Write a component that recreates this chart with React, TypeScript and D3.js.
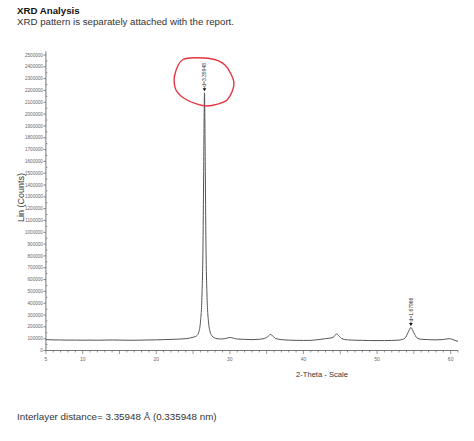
import React from "react";
import * as d3 from "d3";

const twoTheta: number[] = [
  5, 6, 7, 8, 9, 10, 11, 12, 13, 14, 15, 16, 17, 18, 19, 20, 21, 22, 23, 24, 24.5, 25, 25.5, 25.8, 26.0, 26.2,
  26.35, 26.45, 26.55, 26.65, 26.75, 26.9, 27.1, 27.3, 27.6, 28.0, 28.5, 29, 29.5, 30, 30.5, 31, 32, 33, 34,
  35, 35.5, 35.8, 36.2, 37, 38, 39, 40, 41, 42, 43, 44, 44.5, 44.8, 45.2, 46, 47, 48, 49, 50, 51, 52, 53,
  53.8, 54.2, 54.6, 55.0, 55.4, 56, 57, 58, 59, 59.8, 60.2, 60.6, 61,
];
const counts: number[] = [
  92000, 90000, 89000, 88000, 88000, 87000, 88000, 87000, 88000, 89000, 88000, 87000, 87000, 88000, 89000,
  90000, 92000, 94000, 96000, 100000, 104000, 112000, 125000, 160000, 240000, 450000,
  900000, 1600000, 2180000, 1600000, 900000, 450000, 240000, 160000, 122000, 104000, 98000, 98000, 103000,
  110000, 104000, 97000, 94000, 92000, 95000,
  110000, 135000, 125000, 102000, 92000, 88000, 86000, 85000, 86000, 92000, 100000, 110000, 140000, 125000,
  100000, 90000, 87000, 86000, 84000, 84000, 84000, 85000, 88000,
  105000, 150000, 195000, 150000, 108000, 95000, 92000, 90000, 93000, 100000, 95000, 85000, 78000,
];

const yTickValues: number[] = d3.range(0, 2500001, 100000);
const xTickLabels: number[] = [5, 10, 20, 30, 40, 50, 60];

const peakLabels: { theta: number; text: string }[] = [
  { theta: 26.55, text: "d=3.35948" },
  { theta: 54.6, text: "d=1.67966" },
];

// hand-drawn red circle around the main peak label (pixel annotation)
const redLoop: [number, number][] = [
  [183, 59.5], [208, 58.3], [225, 65], [234, 83], [227, 100], [207, 106], [187, 100], [176, 90], [174.5, 76],
];

const FONT = "'Liberation Sans', Arial, Helvetica, sans-serif";

export default function App() {
  const x = d3.scaleLinear().domain([5, 61]).range([45.9, 458]);
  const y = d3.scaleLinear().domain([0, 2500000]).range([350.5, 55]);
  const yTop = y(2530000);

  const data = twoTheta.map((t, i) => [t, counts[i]] as [number, number]);
  const line = d3
    .line<[number, number]>()
    .x((d) => x(d[0]))
    .y((d) => y(d[1]))
    .curve(d3.curveMonotoneX);

  const loop = d3.line().curve(d3.curveCardinalClosed.tension(0.2))(redLoop) || "";

  const minorY = d3.range(50000, 2530000, 100000);
  const xTicks = d3.range(5, 62, 1);
  const axisColor = "#555";

  return (
    <svg
      width={474}
      height={441}
      style={{ position: "absolute", left: 0, top: 0, background: "#fff" }}
      fontFamily={FONT}
    >
      <rect width={474} height={441} fill="#fff" />
      <text x={17} y={14} fontSize={9.7} fontWeight="bold" fill="#111">
        XRD Analysis
      </text>
      <text x={17} y={24.5} fontSize={9.7} fill="#333">
        XRD pattern is separately attached with the report.
      </text>

      {/* Y axis */}
      <line x1={x(5)} x2={x(5)} y1={yTop} y2={y(0)} stroke={axisColor} strokeWidth={0.8} />
      {yTickValues.map((v) => (
        <g key={"yt" + v}>
          <line x1={x(5) - 2.5} x2={x(5)} y1={y(v)} y2={y(v)} stroke={axisColor} strokeWidth={0.7} />
          <text
            x={x(5) - 3}
            y={y(v)}
            dy="0.35em"
            fontSize={4.6}
            textAnchor="end"
            fill="#666"
          >
            {v}
          </text>
        </g>
      ))}
      {minorY.map((v) => (
        <line key={"ym" + v} x1={x(5)} x2={x(5) + 1.5} y1={y(v)} y2={y(v)} stroke={axisColor} strokeWidth={0.6} />
      ))}
      <text
        transform={`translate(24,197.5) rotate(-90)`}
        fontSize={9}
        textAnchor="middle"
        fill="#333"
      >
        Lin (Counts)
      </text>

      {/* X axis */}
      <line x1={x(5)} x2={x(61)} y1={y(0)} y2={y(0)} stroke={axisColor} strokeWidth={0.8} />
      {xTicks.map((t) => (
        <line
          key={"xt" + t}
          x1={x(t)}
          x2={x(t)}
          y1={y(0)}
          y2={y(0) + (t % 5 === 0 ? 3.5 : 2)}
          stroke={axisColor}
          strokeWidth={0.6}
        />
      ))}
      {xTickLabels.map((t) => (
        <text key={"xl" + t} x={x(t)} y={361} fontSize={5} textAnchor="middle" fill="#666">
          {t}
        </text>
      ))}
      <text x={322} y={377} fontSize={7.6} textAnchor="middle" fill="#333">
        2-Theta - Scale
      </text>

      {/* pattern */}
      <path d={line(data) || ""} fill="none" stroke="#555" strokeWidth={1} />

      {/* peak labels */}
      {peakLabels.map((p) => {
        const i = twoTheta.indexOf(p.theta);
        const px = x(p.theta);
        const py = y(counts[i]) - 1.5;
        return (
          <g key={p.text}>
            <path d={`M${px - 1.8},${py - 3} L${px + 1.8},${py - 3} L${px},${py} Z`} fill="#111" />
            <line x1={px} x2={px} y1={py - 3} y2={py - 4} stroke="#111" strokeWidth={0.6} />
            <text
              transform={`translate(${px + 1.6},${py - 4.5}) rotate(-90)`}
              fontSize={5}
              fill="#333"
            >
              {p.text}
            </text>
          </g>
        );
      })}

      <path d={loop} fill="none" stroke="#e3343f" strokeWidth={1.4} />

      <text x={17} y={420} fontSize={9.8} fill="#333">
        Interlayer distance= 3.35948 Å (0.335948 nm)
      </text>
    </svg>
  );
}
